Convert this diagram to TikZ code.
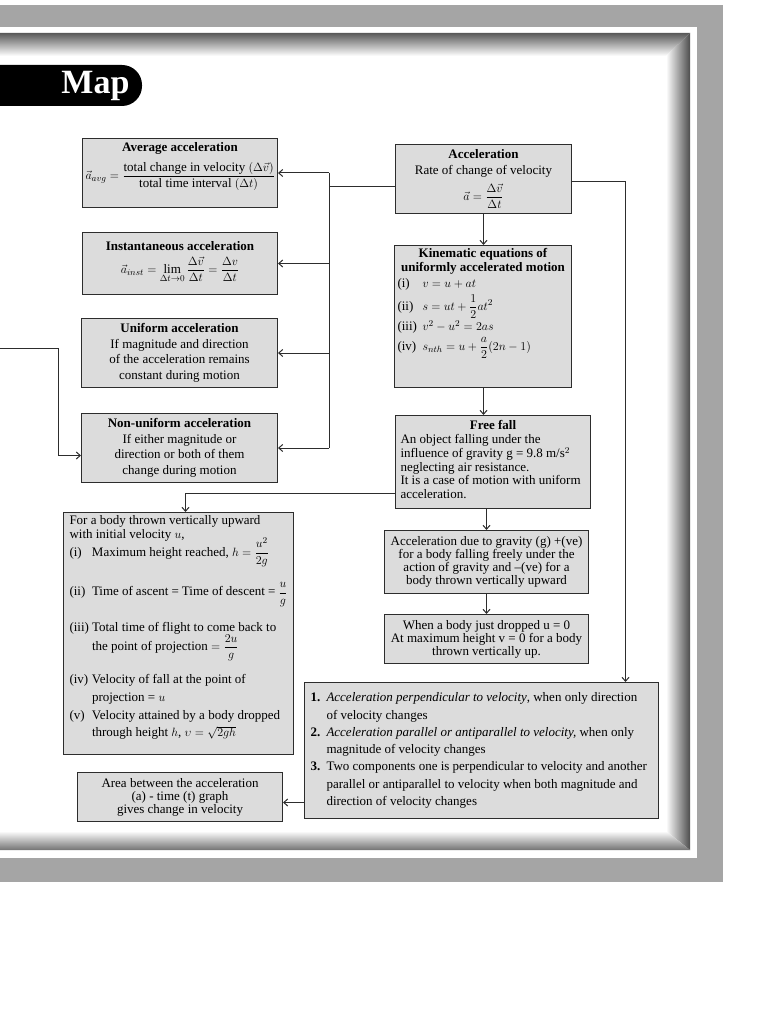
\documentclass[tikz,border=0pt]{standalone}
\usepackage{amsmath}
\usepackage{fontspec}
\setmainfont{Liberation Serif}
\usetikzlibrary{arrows.meta}
\definecolor{boxgray}{RGB}{220,220,220}
\definecolor{framegray}{RGB}{165,165,165}
\definecolor{linegray}{RGB}{45,45,45}
\tikzset{
  box/.style={draw=linegray, line width=1pt, fill=boxgray, anchor=north west, inner sep=0pt},
  conn/.style={draw=linegray, line width=1pt},
  arr/.style={conn, -{Straight Barb[length=4pt,width=7pt]}},
}
\newcommand{\mtext}[3]{\begin{minipage}{#1pt}\fontsize{13}{#2}\selectfont #3\end{minipage}}
\newcommand{\numlab}[1]{\makebox[16pt][l]{\textbf{#1}}}
\newcommand{\rlab}[1]{\makebox[22.5pt][l]{#1}}
\begin{document}
\begin{tikzpicture}[x=1pt,y=-1pt]
\useasboundingbox (0,0) rectangle (768,1024);
\fill[white] (0,0) rectangle (768,1024);
% frame
\fill[framegray] (0,5) rectangle (723,882);
\fill[white] (0,27) rectangle (697,858);
\shade[top color=black!65, bottom color=white] (0,33) -- (690,33) -- (666,56) -- (0,56) -- cycle;
\shade[left color=white, right color=black!70] (666,56) -- (690,33) -- (690,850) -- (666,831) -- cycle;
\shade[top color=white, bottom color=black!55] (0,831) -- (666,831) -- (690,850) -- (0,850) -- cycle;
% banner
\fill[black, rounded corners=20pt] (-30,65) rectangle (142,106);
\node[text=white, font=\bfseries\fontsize{34}{34}\selectfont, anchor=east] (maptitle) at (133,86) {Map};

% left column boxes
\node[box, minimum width=195pt, minimum height=69pt] (avg) at (82,138)
  {\mtext{189}{15}{\centering\textbf{Average acceleration}\\[7pt]
   \mbox{$\vec{a}_{avg}=\dfrac{\text{total change in velocity }(\Delta\vec{v})}{\text{total time interval }(\Delta t)}$}\par\vspace{13pt}}};
\node[box, minimum width=195pt, minimum height=62pt] (inst) at (82,232)
  {\mtext{189}{15}{\centering\textbf{Instantaneous acceleration}\\[5pt]
   \mbox{$\vec{a}_{inst}=\lim\limits_{\Delta t\to0}\dfrac{\Delta\vec{v}}{\Delta t}=\dfrac{\Delta v}{\Delta t}$}\par\vspace{3pt}}};
\node[box, minimum width=196pt, minimum height=69pt] (unif) at (81,318)
  {\mtext{190}{15.5}{\centering\textbf{Uniform acceleration}\\If magnitude and direction\\of the acceleration remains\\constant during motion}};
\node[box, minimum width=196pt, minimum height=69pt] (nonu) at (81,413)
  {\mtext{190}{15.5}{\centering\textbf{Non-uniform acceleration}\\If either magnitude or\\direction or both of them\\change during motion}};

% right column
\node[box, minimum width=176pt, minimum height=69pt] (acc) at (395,144)
  {\mtext{172}{16}{\centering\textbf{Acceleration}\\Rate of change of velocity\\[6pt]
   \mbox{$\vec{a}=\dfrac{\Delta\vec{v}}{\Delta t}$}}};
\node[box, minimum width=177pt, minimum height=142pt] (kin) at (394,245)
  {\begin{minipage}[t][136pt][t]{171pt}\fontsize{13}{14}\selectfont
   \centering\textbf{Kinematic equations of\\uniformly accelerated motion}\par\vspace{2pt}\raggedright
   \makebox[25pt][l]{(i)}$v=u+at$\\[3pt]
   \makebox[25pt][l]{(ii)}$s=ut+\dfrac{1}{2}at^2$\\[1pt]
   \makebox[25pt][l]{(iii)}$v^2-u^2=2as$\\[3pt]
   \makebox[25pt][l]{(iv)}$s_{nth}=u+\dfrac{a}{2}(2n-1)$
   \end{minipage}};
\node[box, minimum width=195pt, minimum height=93pt] (ff) at (395,415)
  {\mtext{185}{13.5}{\centering\textbf{Free fall}\par\raggedright
   An object falling under the\\[1pt]
   influence of gravity g = 9.8 m/s$^2$\\
   neglecting air resistance.\\
   It is a case of motion with uniform\\
   acceleration.\par\vspace{5pt}}};
\node[box, minimum width=230pt, minimum height=242pt] (left) at (63,512)
  {\begin{minipage}[t][236pt][t]{218pt}\fontsize{13}{16.5}\selectfont\raggedright
   For a body thrown vertically upward\\[-3pt]
   with initial velocity $u$,\\[-4pt]
   \rlab{(i)}Maximum height reached, \mbox{$h=\dfrac{u^2}{2g}$}\\[15pt]
   \rlab{(ii)}Time of ascent = Time of descent = \mbox{$\dfrac{u}{g}$}\\[15pt]
   \rlab{(iii)}Total time of flight to come back to\\[-1pt]
   \hspace*{22.5pt}the point of projection \mbox{$=\dfrac{2u}{g}$}\\[12pt]
   \rlab{(iv)}Velocity of fall at the point of\\[2pt]
   \hspace*{22.5pt}projection = $u$\\[1pt]
   \rlab{(v)}Velocity attained by a body dropped\\[1pt]
   \hspace*{22.5pt}through height $h$,\ \mbox{$\upsilon=\sqrt{2gh}$}
   \end{minipage}};
\node[box, minimum width=204pt, minimum height=63pt] (grav) at (384,530)
  {\mtext{200}{11.3}{\centering Acceleration due to gravity (g) +(ve)\\for a body falling freely under the\\action of gravity and --(ve) for a\\body thrown vertically upward}};
\node[box, minimum width=204pt, minimum height=49pt] (drop) at (384,614)
  {\mtext{200}{11.5}{\centering When a body just dropped u = 0\\At maximum height v = 0 for a body\\thrown vertically up.}};
\node[box, minimum width=354pt, minimum height=136pt] (br) at (304,682)
  {\mtext{342}{17.3}{\raggedright
   \numlab{1.}\textit{Acceleration perpendicular to velocity}, when only direction\\
   \hspace*{16pt}of velocity changes\\
   \numlab{2.}\textit{Acceleration parallel or antiparallel to velocity,} when only\\
   \hspace*{16pt}magnitude of velocity changes\\
   \numlab{3.}Two components one is perpendicular to velocity and another\\
   \hspace*{16pt}parallel or antiparallel to velocity when both magnitude and\\
   \hspace*{16pt}direction of velocity changes}};
\node[box, minimum width=205pt, minimum height=49pt] (area) at (77,772)
  {\mtext{199}{13}{\centering Area between the acceleration\\(a) - time (t) graph\\gives change in velocity}};

% connectors
\coordinate (bus) at (329,300);
\draw[conn] (bus |- avg.east) -- (bus |- nonu.east);
\draw[arr] (bus |- avg.east) -- (avg.east);
\draw[arr] (bus |- inst.east) -- (inst.east);
\draw[arr] (bus |- unif.east) -- (unif.east);
\draw[arr] (bus |- nonu.east) -- (nonu.east);
\draw[conn] ([yshift=-8pt]acc.west) -| (bus);
\draw[arr] ([yshift=-3pt]acc.east) -| ([xshift=144pt]br.north);
\draw[arr] (acc.south) -- (acc.south |- kin.north);
\draw[arr] (acc.south |- kin.south) -- (acc.south |- ff.north);
\draw[arr] ([yshift=-31pt]ff.west) -| ([xshift=7pt]left.north);
\draw[arr] (grav.north |- ff.south) -- (grav.north);
\draw[arr] (grav.south) -- (drop.north);
\coordinate (leftin) at (0,348);
\coordinate (bend) at (58,348);
\draw[arr] (leftin) -- (bend) |- ([yshift=-7.5pt]nonu.west);
\draw[arr] ([yshift=-52pt]br.west) -- ([yshift=-52pt]br.west -| area.east);
\end{tikzpicture}
\end{document}
